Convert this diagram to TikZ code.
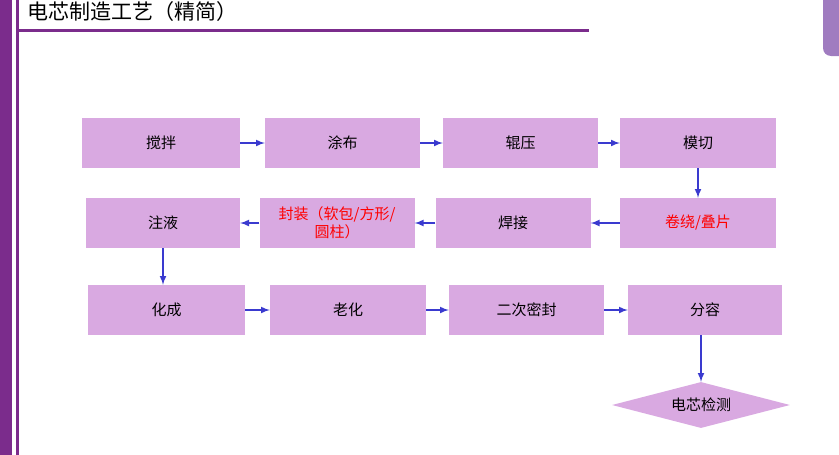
\documentclass[tikz,border=0pt]{standalone}
\usepackage{fontspec}
\setmainfont{Noto Sans CJK SC}
\usetikzlibrary{shapes.geometric}
\definecolor{boxpink}{HTML}{D9A9E1}
\definecolor{barpurple}{HTML}{7B2C8C}
\definecolor{tabpurple}{HTML}{A07CC0}
\definecolor{arrowblue}{HTML}{3A3ACF}
\tikzset{
  stepbox/.style={fill=boxpink, minimum width=155pt, minimum height=50pt, inner sep=2pt, font=\fontsize{15}{18}\selectfont, align=center},
  flow/.style={draw=arrowblue, line width=2pt, -latex}
}
\begin{document}
\begin{tikzpicture}[x=1pt,y=-1pt]
        \useasboundingbox (0,0) rectangle (839,455);
        % frame
        \fill[barpurple] (0,0) rectangle (12,455);
        \fill[barpurple] (16,0) rectangle (18.5,455);
        \fill[barpurple] (16,28.5) rectangle (589,32);
        \fill[tabpurple] (823,0) -- (839,0) -- (839,56) -- (831,56) arc (90:180:8) -- cycle;
        \node[anchor=west, font=\fontsize{21}{24}\selectfont] (title) at (24,12) {电芯制造工艺（精简）};
        % row 1
        \node[stepbox, minimum width=158pt] (jb) at (161,143) {搅拌};
        \node[stepbox] (tb) at (342.5,143) {涂布};
        \node[stepbox] (gy) at (520.5,143) {辊压};
        \node[stepbox, minimum width=156pt] (mq) at (698,143) {模切};
        % row 2
        \node[stepbox, minimum width=156pt, text=red] (jr) at (698,223) {卷绕/叠片};
        \node[stepbox] (hj) at (513,223) {焊接};
        \node[stepbox, text=red] (fz) at (337,223) {封装（软包/方形/\\圆柱）};
        \node[stepbox, minimum width=154pt] (zy) at (163,223) {注液};
        % row 3
        \node[stepbox, minimum width=157pt] (hc) at (166.5,310) {化成};
        \node[stepbox, minimum width=156pt] (lh) at (348,310) {老化};
        \node[stepbox] (ec) at (526.5,310) {二次密封};
        \node[stepbox, minimum width=154pt] (fr) at (705,310) {分容};
        % check
        \node[diamond, aspect=4, fill=boxpink, minimum width=178pt, minimum height=46pt, inner sep=0pt, font=\fontsize{15}{18}\selectfont] (jc) at (701,405) {电芯检测};
        % arrows
        \draw[flow] (jb) -- (tb);
        \draw[flow] (tb) -- (gy);
        \draw[flow] (gy) -- (mq);
        \draw[flow] (mq) -- (jr);
        \draw[flow] (jr) -- (hj);
        \draw[flow] (hj) -- (fz);
        \draw[flow] (fz) -- (zy);
        \draw[flow] (zy) -- (zy |- hc.north);
        \draw[flow] (hc) -- (lh);
        \draw[flow] (lh) -- (ec);
        \draw[flow] (ec) -- (fr);
        \draw[flow] (fr.south -| jc) -- (jc);
\end{tikzpicture}
\end{document}
